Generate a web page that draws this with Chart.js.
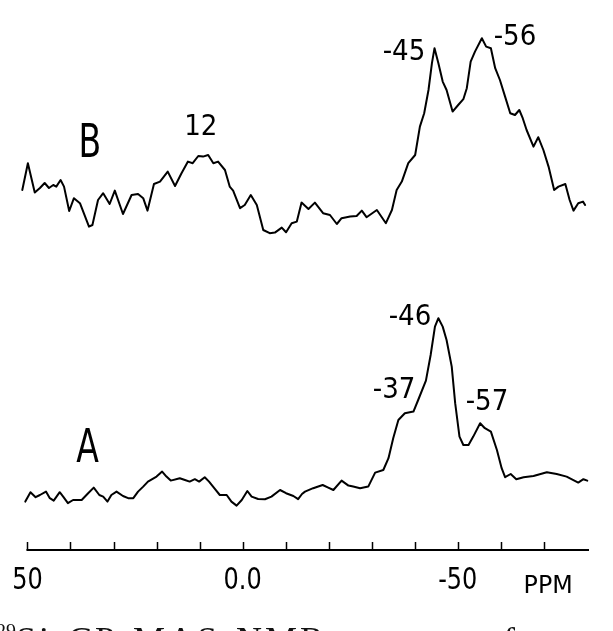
<!DOCTYPE html>
<html>
<head>
<meta charset="utf-8">
<script src="https://cdn.jsdelivr.net/npm/chart.js@4"></script>
<style>
  html, body { margin: 0; padding: 0; background: #fff; overflow: hidden; }
  #wrap { position: relative; width: 613px; height: 631px; }
  #caption {
    position: absolute; left: -4px; top: 613px; white-space: nowrap;
    font-family: "Liberation Serif", "DejaVu Serif", serif; font-size: 36px;
    line-height: 36px; letter-spacing: 3px; word-spacing: 4px; color: #111;
  }
  #caption sup { font-size: 20px; vertical-align: 14px; letter-spacing: 0; }
</style>
</head>
<body>
<div id="wrap">
  <canvas id="spectra"></canvas>
  <div id="caption"><sup>29</sup>Si CP-MAS NMR spectra of samples</div>
</div>
<script>
// trace B (upper), chemical shift in ppm and intensity (arbitrary units)
const ppmB = [51.2,49.9,48.3,47.1,46.0,45.0,44.0,43.3,42.3,41.5,
  40.3,39.2,37.8,35.7,34.9,33.6,32.4,30.9,29.7,27.8,
  25.8,24.3,23.1,22.1,20.6,19.2,17.4,15.7,14.2,12.7,
  11.6,10.3,9.2,8.0,6.8,5.7,4.1,3.0,2.2,0.6,
  -0.5,-1.9,-3.3,-4.8,-6.3,-7.5,-9.1,-10.1,-11.4,-12.6,
  -13.7,-15.3,-16.8,-18.7,-20.3,-21.9,-23.0,-25.0,-26.5,-27.7,
  -28.8,-31.2,-33.3,-34.7,-35.8,-37.0,-38.5,-40.1,-41.2,-42.2,
  -43.2,-44.0,-44.6,-45.5,-46.5,-47.4,-48.8,-50.1,-51.3,-52.1,
  -53.0,-54.0,-55.6,-56.6,-57.7,-58.7,-59.8,-61.0,-62.2,-63.3,
  -64.3,-65.1,-66.0,-67.6,-68.7,-69.9,-71.1,-72.4,-73.4,-75.0,
  -76.0,-76.9,-78.0,-79.1,-79.6];
const intB = [23,36.4,21.7,24,26.5,24,25.5,24.7,28,24.7,
  12.5,18.9,16.4,4.7,5.5,18,21.4,16,22.7,11,
  20.5,21,18.9,12.7,26,27.2,32.2,25,31.4,37.2,
  36.4,40,39.7,40.5,36.4,37.2,33,24.7,22.7,13.9,
  15.5,20.5,15.5,3,1.4,1.7,4.2,1.9,6.4,7.2,
  16.7,13.5,16.7,11.4,10.5,6,8.9,9.7,10,12.7,
  9.4,13,6.4,13,23,27.2,36.4,40.5,54.7,61.4,
  73,86.4,93.9,86.4,77.2,73,62.2,65.5,68.4,73.9,
  87.2,92.2,98.9,94.7,93.9,83.9,78,69.7,61.4,60.5,
  63,58.9,53,44.7,49.4,43,34.7,23,24.7,26,
  18,12.7,16.4,17.2,15.5];

// trace A (lower)
const ppmA = [50.5,49.3,48.1,47.1,45.7,44.8,43.9,42.5,41.7,40.6,
  39.4,37.4,35.9,34.6,33.3,32.4,31.4,30.5,29.3,27.8,
  26.6,25.4,24.3,23.1,22.0,20.0,18.7,17.7,16.7,14.6,
  13.4,12.3,11.1,10.1,8.8,7.8,6.4,5.3,3.7,2.6,
  1.4,0.2,-1.1,-2.1,-3.6,-5.2,-6.7,-8.7,-10.1,-11.8,
  -12.9,-13.8,-14.5,-16.4,-18.6,-19.9,-21.1,-23.0,-24.6,-25.7,
  -27.3,-29.2,-30.8,-32.7,-33.9,-35.0,-36.2,-37.7,-39.7,-40.8,
  -42.6,-43.7,-44.7,-45.5,-46.5,-47.4,-48.6,-49.4,-50.4,-51.3,
  -52.5,-53.6,-55.2,-56.3,-57.7,-59.1,-60.2,-61.0,-62.3,-63.6,
  -65.3,-67.6,-70.7,-73.0,-75.3,-78.0,-79.2,-80.1];
const intA = [2.7,7.4,4.9,6,7.7,4.4,3.2,7.4,5.2,1.9,
  3.5,3.5,6.9,9.7,6,5.2,2.7,6,7.7,5.5,
  4.4,4.4,7.7,10.2,12.7,15.2,17.7,15.2,13.2,14.4,
  13.5,12.7,13.9,12.7,14.9,12.7,8.9,6,6,2.7,
  0.7,3.5,8,5.2,4,3.9,5.2,8.5,6.9,5.5,
  3.9,6.5,7.7,9.4,11,9.7,8.5,13.2,10.7,10.2,
  9.4,10.2,17.2,18.5,24.4,34.4,43.5,46.9,47.7,53.5,
  63.2,76,90.2,94.4,90.2,83.5,70.2,51.9,35.2,31,
  31,35.2,41.9,39.4,37.7,28.5,19.4,14.9,16.5,13.9,
  14.9,15.5,17.4,16.5,15.2,12.2,13.9,13.2];

// x axis ticks and labels
const tickValues = [50,40,30,20,10,0,-10,-20,-30,-40,-50,-60,-70];
const tickLabelValues = [50, 0, -50];
const tickLabelTexts = ["50", "0.0", "-50"];
const axisUnit = "PPM";

// peak labels: text, ppm, intensity, which trace
const peakTexts = ["B", "12", "-45", "-56", "A", "-46", "-37", "-57"];
const peakPpm = [35.5, 9.7, -37.5, -63.3, 36, -38.9, -35.2, -56.8];
const peakInt = [39.5, 50.5, 88, 95.5, 22.5, 91, 54.5, 48.5];
const peakTrace = ["B", "B", "B", "B", "A", "A", "A", "A"];

function toPoints(xs, ys) {
  return xs.map((v, i) => ({ x: v, y: ys[i] }));
}

function drawText(ctx, text, x, y, size, sx) {
  ctx.save();
  ctx.translate(x, y);
  ctx.scale(sx, 1);
  ctx.font = size + 'px "DejaVu Sans", sans-serif';
  ctx.textAlign = "center";
  ctx.textBaseline = "alphabetic";
  ctx.fillText(text, 0, 0);
  ctx.restore();
}

const extras = {
  id: "extras",
  afterDatasetsDraw(chart) {
    const { ctx, chartArea, scales } = chart;
    const x = scales.x;
    const base = chartArea.bottom;
    ctx.save();
    ctx.strokeStyle = "#000";
    ctx.fillStyle = "#000";
    ctx.lineWidth = 2;
    ctx.beginPath();
    ctx.moveTo(x.getPixelForValue(50) - 1, base);
    ctx.lineTo(chartArea.right, base);
    ctx.stroke();
    ctx.lineWidth = 1.5;
    ctx.beginPath();
    tickValues.forEach(v => {
      const px = Math.round(x.getPixelForValue(v)) + 0.5;
      ctx.moveTo(px, base);
      ctx.lineTo(px, base - 8);
    });
    ctx.stroke();
    tickLabelValues.forEach((v, i) => {
      drawText(ctx, tickLabelTexts[i], x.getPixelForValue(v), base + 39, 30, 0.8);
    });
    drawText(ctx, axisUnit, x.getPixelForValue(-71), base + 43, 25, 0.95);

    peakTexts.forEach((t, i) => {
      const yScale = peakTrace[i] === "A" ? scales.yA : scales.yB;
      const big = t === "A" || t === "B";
      drawText(ctx, t, x.getPixelForValue(peakPpm[i]), yScale.getPixelForValue(peakInt[i]),
        big ? 46 : 29, big ? 0.72 : 0.9);
    });
    ctx.restore();
  }
};

const context = document.getElementById("spectra").getContext("2d");
const chart = new Chart(context, {
  type: "line",
  data: {
    datasets: [{
      label: "B",
      data: toPoints(ppmB, intB),
      yAxisID: "yB",
      borderColor: "#000",
      borderWidth: 2,
      borderJoinStyle: "round",
      borderCapStyle: "round",
      pointRadius: 0,
      tension: 0,
      fill: false
    }, {
      label: "A",
      data: toPoints(ppmA, intA),
      yAxisID: "yA",
      borderColor: "#000",
      borderWidth: 2,
      borderJoinStyle: "round",
      borderCapStyle: "round",
      pointRadius: 0,
      tension: 0,
      fill: false
    }]
  },
  options: {
    responsive: true,
    maintainAspectRatio: false,
    animation: false,
    layout: { padding: { left: 21, right: 24, top: 0, bottom: 81 } },
    plugins: { legend: { display: false }, tooltip: { enabled: false } },
    scales: {
      x: { type: "linear", min: -80.5, max: 51.5, reverse: true, display: false },
      yA: { type: "linear", min: -21.5, max: 253.5, display: false },
      yB: { type: "linear", min: -157, max: 118, display: false }
    }
  },
  plugins: [extras]
});
</script>
</body>
</html>
